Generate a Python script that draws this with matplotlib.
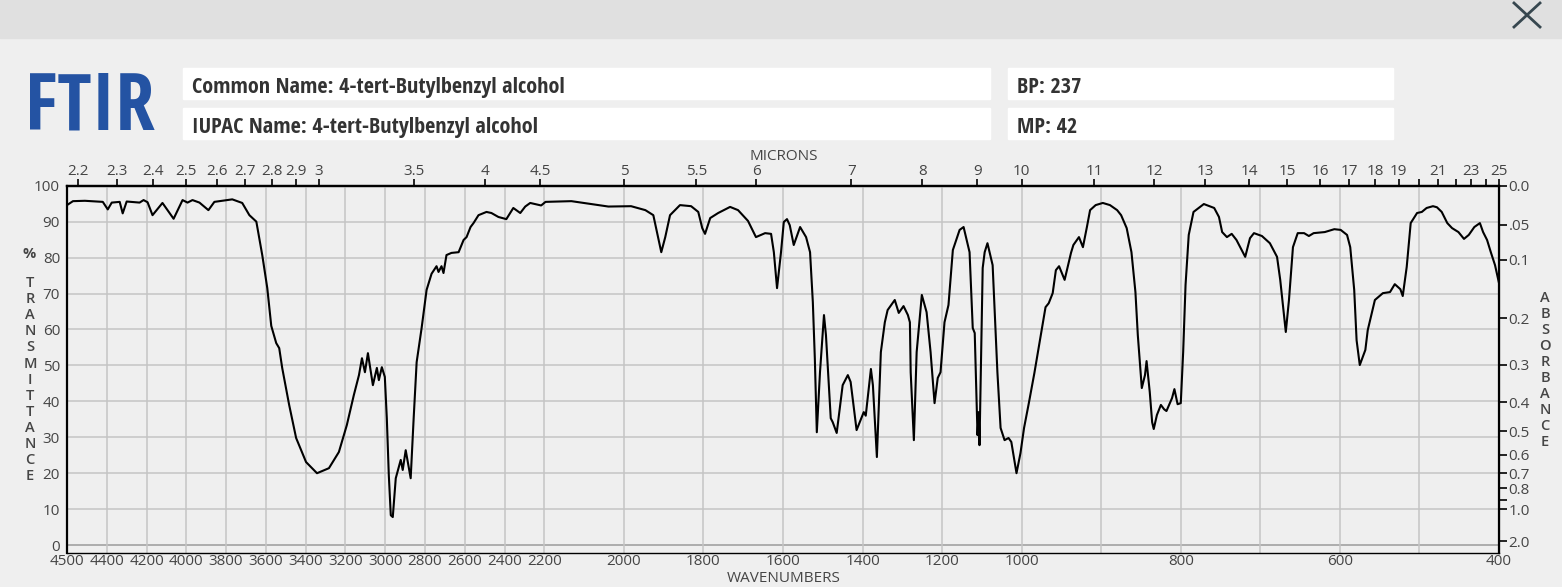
import numpy as np
import matplotlib.pyplot as plt
from matplotlib.patches import Rectangle
from matplotlib.lines import Line2D

plt.rcParams['font.family'] = ['Open Sans', 'DejaVu Sans']

# Spectrum: wavenumber (cm-1) and % transmittance
wavenumber = [
    4600, 4570, 4510, 4420, 4395, 4375, 4335, 4320, 4300, 4235, 4215, 4195,
    4170, 4120, 4064, 4019, 3994, 3969, 3934, 3889, 3859, 3809, 3769, 3719,
    3683, 3648, 3618, 3593, 3573, 3548, 3533, 3518, 3483, 3448, 3398, 3343,
    3283, 3233, 3193, 3158, 3132, 3117, 3102, 3087, 3062, 3042, 3032, 3017,
    3002, 2992, 2982, 2972, 2962, 2947, 2922, 2912, 2897, 2872, 2857, 2842,
    2817, 2792, 2767, 2742, 2732, 2717, 2707, 2692, 2667, 2631, 2606, 2591,
    2571, 2556, 2531, 2491, 2466, 2431, 2391, 2356, 2321, 2296, 2271, 2216,
    2197, 2132, 2039, 1982, 1946, 1926, 1914, 1906, 1896, 1884, 1859, 1831,
    1813, 1803, 1796, 1783, 1763, 1733, 1713, 1688, 1668, 1645, 1630, 1623,
    1615, 1605, 1598, 1590, 1583, 1573, 1557, 1542, 1532, 1525, 1520, 1515,
    1507, 1497, 1492, 1480, 1475, 1465, 1450, 1437, 1430, 1415, 1402, 1397,
    1392, 1379, 1374, 1364, 1354, 1344, 1337, 1319, 1309, 1297, 1286, 1281,
    1279, 1271, 1264, 1251, 1239, 1229, 1219, 1211, 1204, 1194, 1184, 1173,
    1156, 1146, 1131, 1123, 1118, 1111, 1108, 1106, 1098, 1093, 1086, 1073,
    1061, 1053, 1043, 1033, 1026, 1013, 1003, 997, 991, 984, 977, 970,
    966, 961, 957, 953, 946, 938, 935, 928, 923, 918, 914, 907,
    898, 889, 880, 875, 868, 862, 857, 854, 850, 849, 845, 843,
    839, 836, 834, 830, 825, 821, 818, 811, 808, 804, 800, 797,
    794, 790, 784, 771, 758, 752, 748, 742, 736, 730, 719, 713,
    708, 698, 688, 679, 675, 670, 668, 664, 659, 653, 645, 639,
    633, 619, 607, 599, 591, 587, 582, 579, 575, 568, 565, 556,
    546, 537, 531, 524, 521, 516, 511, 503, 497, 491, 483, 478,
    472, 465, 459, 451, 444, 438, 431, 424, 420, 415, 410, 405,
    400,
]
transmittance = [
    94.6, 95.7, 95.8, 95.5, 93.4, 95.3, 95.5, 92.3, 95.6, 95.3, 96.0, 95.4,
    91.8, 95.2, 90.8, 96.0, 95.3, 96.0, 95.3, 93.2, 95.5, 95.9, 96.2, 95.2,
    91.8, 90.0, 80.6, 71.5, 61.0, 56.2, 54.8, 49.3, 39.0, 29.8, 23.1, 20.0,
    21.4, 25.9, 33.4, 41.7, 47.3, 52.0, 48.1, 53.4, 44.5, 49.3, 45.9, 49.5,
    46.8, 35.3, 19.5, 8.3, 7.8, 18.6, 23.7, 20.9, 26.4, 18.6, 35.3, 50.9,
    60.4, 71.0, 75.5, 77.6, 76.0, 77.6, 75.7, 80.7, 81.3, 81.5, 84.9, 85.7,
    88.5, 89.6, 91.8, 92.7, 92.4, 91.3, 90.7, 93.8, 92.4, 94.2, 95.2, 94.5,
    95.5, 95.7, 94.2, 94.3, 93.2, 91.8, 85.7, 81.5, 85.7, 91.8, 94.6, 94.3,
    92.7, 88.2, 86.6, 91.0, 92.4, 94.1, 93.2, 90.2, 85.7, 86.8, 86.6, 81.5,
    71.5, 81.5, 89.9, 90.7, 89.0, 83.5, 88.5, 85.7, 81.5, 67.6, 52.0, 31.4,
    48.1, 64.0, 58.4, 35.3, 34.2, 31.2, 44.5, 47.3, 45.4, 32.0, 35.6, 37.0,
    36.0, 49.0, 44.5, 24.5, 53.7, 62.0, 65.4, 68.2, 64.6, 66.5, 64.0, 62.0,
    48.1, 29.2, 53.7, 69.6, 64.8, 53.7, 39.5, 46.5, 48.1, 62.0, 66.8, 82.1,
    87.7, 88.5, 81.5, 60.4, 59.0, 30.6, 37.0, 27.8, 77.1, 81.5, 84.0, 77.9,
    48.1, 32.6, 29.2, 29.8, 28.7, 20.0, 25.6, 32.6, 39.5, 47.9, 57.0, 66.2,
    67.3, 70.1, 76.5, 77.6, 73.8, 81.3, 83.5, 85.7, 82.9, 88.5, 93.2, 94.6,
    95.2, 94.6, 93.2, 91.8, 88.2, 81.5, 70.4, 58.4, 46.5, 43.7, 47.3, 51.2,
    42.6, 34.2, 32.3, 36.2, 39.0, 37.8, 37.3, 40.9, 43.4, 39.2, 39.5, 53.7,
    72.4, 86.3, 92.7, 94.9, 93.8, 91.3, 87.1, 85.7, 86.6, 84.9, 80.2, 85.4,
    86.8, 86.0, 84.0, 80.2, 73.8, 63.5, 59.3, 68.2, 82.9, 86.8, 86.8, 86.0,
    86.8, 87.1, 87.9, 87.7, 86.3, 82.9, 71.0, 57.0, 50.1, 54.3, 59.8, 68.2,
    70.1, 70.4, 72.6, 71.2, 69.3, 77.4, 89.6, 92.4, 92.7, 93.8, 94.3, 94.0,
    92.7, 89.6, 88.2, 87.1, 85.2, 86.3, 88.5, 89.6, 87.1, 84.9, 81.3, 77.9,
    72.9,
]

# bottom axis labels (the left edge carries "4500" in the original)
wn_label_pos = [4600, 4400, 4200, 4000, 3800, 3600, 3400, 3200, 3000, 2800,
                2600, 2400, 2200, 2000, 1800, 1600, 1400, 1200, 1000, 800, 600, 400]
wn_labels = ['4500', '4400', '4200', '4000', '3800', '3600', '3400', '3200', '3000',
             '2800', '2600', '2400', '2200', '2000', '1800', '1600', '1400', '1200',
             '1000', '800', '600', '400']
grid_wn = [4400, 4200, 4000, 3800, 3600, 3400, 3200, 3000, 2800, 2600, 2400, 2200,
           2000, 1800, 1600, 1400, 1200, 1000, 900, 800, 700, 600, 500]

micron_ticks = [2.2, 2.3, 2.4, 2.5, 2.6, 2.7, 2.8, 2.9, 3, 3.5, 4, 4.5, 5, 5.5, 6,
                7, 8, 9, 10, 11, 12, 13, 14, 15, 16, 17, 18, 19, 21, 23, 25]
micron_labels = ['2.2', '2.3', '2.4', '2.5', '2.6', '2.7', '2.8', '2.9', '3', '3.5',
                 '4', '4.5', '5', '5.5', '6', '7', '8', '9', '10', '11', '12', '13',
                 '14', '15', '16', '17', '18', '19', '21', '23', '25']
micron_minor = [20, 22, 24]

abs_ticks = [0.0, 0.05, 0.1, 0.2, 0.3, 0.4, 0.5, 0.6, 0.7, 0.8, 0.9, 1.0, 2.0]
abs_labels = ['0.0', '.05', '0.1', '0.2', '0.3', '0.4', '0.5', '0.6', '0.7', '0.8',
              '', '1.0', '2.0']

# x axis drawn as three equal stretches: 4600-2200, 2200-1000, 1000-400
break_wn = np.array([4600, 2200, 1000, 400], dtype=float)
break_u = np.array([0, 480, 960, 1440], dtype=float)


def to_u(wn):
    wn = np.asarray(wn, dtype=float)
    return np.interp(-wn, -break_wn, break_u)


W, H = 1562, 587
TXT = '#454545'
fig = plt.figure(figsize=(W / 100, H / 100), dpi=100)
fig.patch.set_facecolor('#efefef')


def fx(x):
    return x / W


def fy(y):
    return 1 - y / H


# header bar and close cross
fig.add_artist(Rectangle((0, fy(38)), 1, 38 / H, transform=fig.transFigure,
                         color='#e0e0e0', zorder=0))
fig.add_artist(Line2D([fx(1514), fx(1540)], [fy(3), fy(27)], transform=fig.transFigure,
                      color='#37474f', lw=2))
fig.add_artist(Line2D([fx(1514), fx(1540)], [fy(27), fy(3)], transform=fig.transFigure,
                      color='#37474f', lw=2))

# info boxes
for x0, x1 in [(183, 990), (1008, 1393)]:
    for y0, y1 in [(68, 99), (108, 139)]:
        fig.add_artist(Rectangle((fx(x0), fy(y1)), (x1 - x0) / W, (y1 - y0) / H,
                                 transform=fig.transFigure, color='white', zorder=0))

head_font = ['Open Sans Condensed', 'DejaVu Sans']
fig.text(fx(25), fy(99), 'FTIR', family=head_font, weight='bold', fontsize=57,
         color='#2453a3', ha='left', va='center_baseline')
for x, y, s in [(192, 85, 'Common Name: 4-tert-Butylbenzyl alcohol'),
                (192, 125, 'IUPAC Name: 4-tert-Butylbenzyl alcohol'),
                (1017, 85, 'BP: 237'),
                (1017, 125, 'MP: 42')]:
    fig.text(fx(x), fy(y), s, family=head_font, weight='bold', fontsize=16,
             color='#333333', ha='left', va='center_baseline')

# plot area
ax = fig.add_axes([fx(67), fy(553), 1432 / W, (553 - 185.7) / H])
ax.set_facecolor('#efefef')
ax.set_xlim(0, 1440)
ax.set_ylim(-2.2, 100)

ax.xaxis.remove_overlapping_locs = False
ax.set_xticks(to_u(wn_label_pos))
ax.set_xticklabels(wn_labels)
ax.set_xticks(to_u(grid_wn), minor=True)
ax.set_yticks(range(0, 101, 10))
ax.grid(axis='x', which='minor', color='#c4c4c4', lw=1.1)
ax.grid(axis='y', which='major', color='#c4c4c4', lw=1.1)
ax.axhline(0, color='#5a5a5a', lw=1.3, zorder=1.5)
ax.tick_params(axis='x', which='both', length=0, pad=1, labelsize=11, labelcolor=TXT)
ax.tick_params(axis='y', length=0, pad=5, labelsize=11, labelcolor=TXT)
for side in ['left', 'right', 'top']:
    ax.spines[side].set_linewidth(1.6)
ax.spines['bottom'].set_linewidth(1.0)

ax.plot(to_u(wavenumber), transmittance, color='black', lw=1.5, solid_joinstyle='round')

# microns on top
top = ax.secondary_xaxis('top')
top.set_xticks(to_u(10000 / np.array(micron_ticks)), labels=micron_labels)
top.set_xticks(to_u(10000 / np.array(micron_minor)), minor=True)
top.tick_params(which='both', direction='out', length=5, width=1.2, pad=0,
                labelsize=11, labelcolor=TXT)
top.spines['top'].set_linewidth(1.6)

# absorbance on the right
right = ax.secondary_yaxis('right')
right.set_yticks(100 * 10 ** (-np.array(abs_ticks)), labels=abs_labels)
right.tick_params(direction='out', length=6, width=1.2, pad=1, labelsize=11,
                  labelcolor=TXT)

fig.text(fx(784), fy(156), 'MICRONS', fontsize=11, color=TXT, ha='center', va='center')
fig.text(fx(784), fy(578), 'WAVENUMBERS', fontsize=11, color=TXT, ha='center', va='center')

fig.text(fx(29), fy(254), '%', fontsize=10.5, weight='bold', color=TXT,
         ha='center', va='center')
for i, ch in enumerate('TRANSMITTANCE'):
    fig.text(fx(30), fy(283 + i * 16.1), ch, fontsize=10.5, weight='semibold',
             color=TXT, ha='center', va='center')
for i, ch in enumerate('ABSORBANCE'):
    fig.text(fx(1545), fy(298 + i * 16.0), ch, fontsize=10.5, weight='semibold',
             color=TXT, ha='center', va='center')

fig.savefig('out.png', dpi=100, facecolor=fig.get_facecolor())
